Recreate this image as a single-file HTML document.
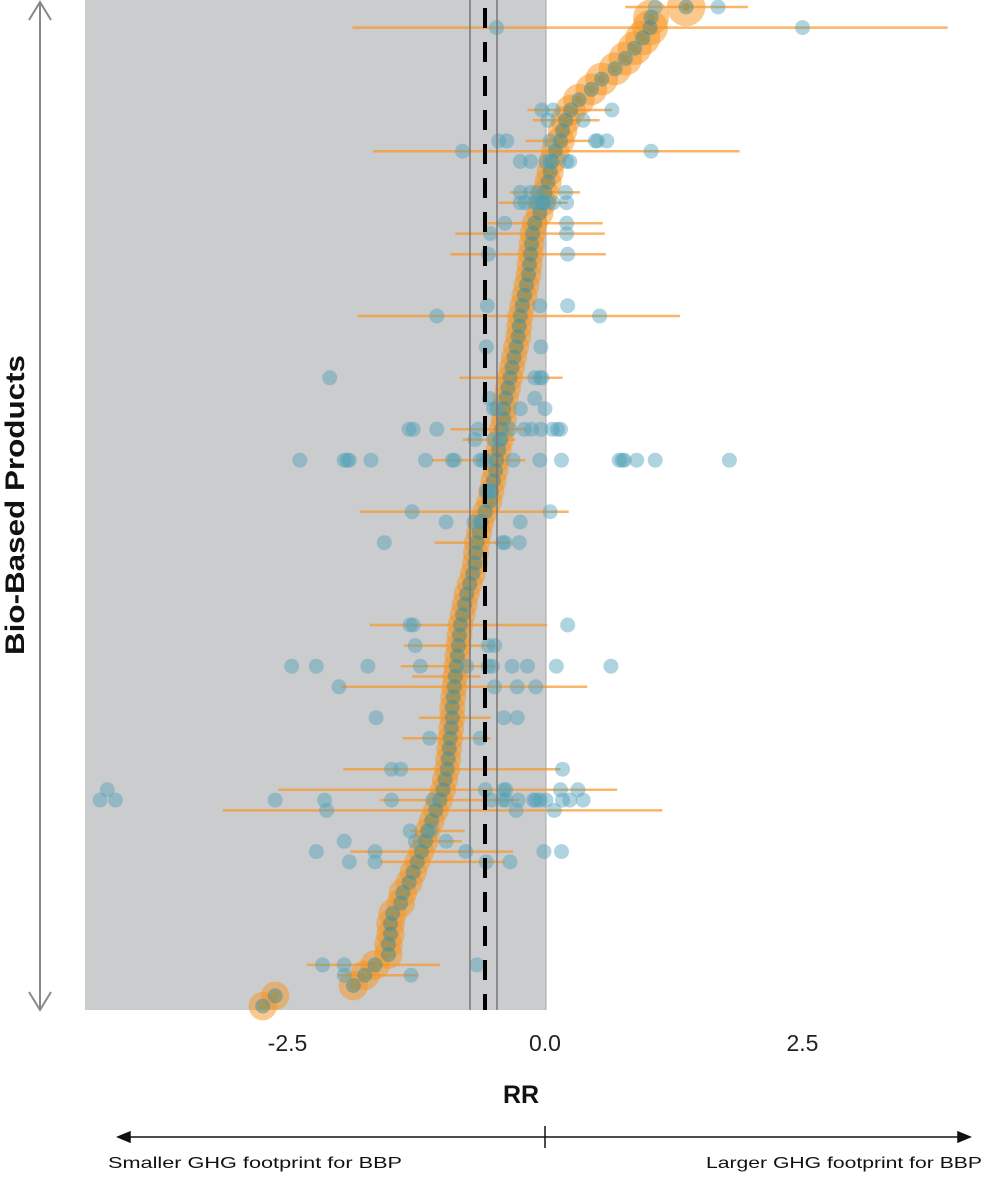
<!DOCTYPE html>
<html><head><meta charset="utf-8"><style>
body{margin:0;background:#fff;width:1000px;height:1183px;overflow:hidden;font-family:"Liberation Sans",sans-serif}
</style></head><body>
<svg id="chart" width="1000" height="1183" viewBox="0 0 1000 1183" xmlns="http://www.w3.org/2000/svg">
<rect x="85" y="0" width="461" height="1010" fill="#cbcccd"/>
<line x1="546" y1="0" x2="546" y2="1010" stroke="#a8a9aa" stroke-width="1"/>
<g id="marks"></g>
<line x1="470" y1="0" x2="470" y2="1010" stroke="#777" stroke-width="1.5"/>
<line x1="497" y1="0" x2="497" y2="1010" stroke="#777" stroke-width="1.5"/>
<line x1="485" y1="8" x2="485" y2="1010" stroke="#000" stroke-width="4" stroke-dasharray="20,14"/>
<g stroke="#888" stroke-width="2" fill="none">
<line x1="40" y1="2" x2="40" y2="1010"/>
<polyline points="29,20 40,2 51,20"/>
<polyline points="29,992 40,1010 51,992"/>
</g>
<text transform="translate(24,505) rotate(-90)" text-anchor="middle" font-size="27" font-weight="bold" fill="#111" textLength="300" lengthAdjust="spacingAndGlyphs">Bio-Based Products</text>
<g id="ticks"></g>
<text x="521" y="1103" text-anchor="middle" font-size="25" font-weight="bold" fill="#111">RR</text>
<g stroke="#111" stroke-width="1.5" fill="#111">
<line x1="122" y1="1137" x2="964" y2="1137"/>
<polygon points="118,1137 130,1132 130,1142"/>
<polygon points="970,1137 958,1132 958,1142"/>
<line x1="545" y1="1126" x2="545" y2="1148"/>
</g>
<text x="108" y="1168" font-size="16" fill="#111" textLength="294" lengthAdjust="spacingAndGlyphs">Smaller GHG footprint for BBP</text>
<text x="706" y="1168" font-size="16" fill="#111" textLength="276" lengthAdjust="spacingAndGlyphs">Larger GHG footprint for BBP</text>
</svg>
<script>
const rrMeans=[1.37,1.03,1.02,0.95,0.87,0.78,0.68,0.55,0.45,0.33,0.25,0.2,0.17,0.15,0.1,0.07,0.05,0.03,0.0,-0.02,-0.05,-0.1,-0.12,-0.13,-0.14,-0.15,-0.16,-0.18,-0.2,-0.22,-0.24,-0.25,-0.26,-0.28,-0.3,-0.32,-0.34,-0.36,-0.38,-0.4,-0.4,-0.42,-0.43,-0.45,-0.47,-0.48,-0.5,-0.52,-0.54,-0.58,-0.62,-0.64,-0.66,-0.67,-0.68,-0.7,-0.73,-0.76,-0.78,-0.8,-0.82,-0.83,-0.84,-0.85,-0.86,-0.87,-0.88,-0.89,-0.9,-0.9,-0.91,-0.92,-0.93,-0.94,-0.95,-0.97,-0.99,-1.02,-1.06,-1.1,-1.14,-1.16,-1.2,-1.24,-1.28,-1.32,-1.38,-1.4,-1.48,-1.5,-1.5,-1.52,-1.52,-1.65,-1.75,-1.86,-2.62,-2.74];
const rrWeights=[2.2,1.9,1.9,1.8,1.7,1.7,1.6,1.6,1.5,1.5,1.4,1.3,1.3,1.2,1.2,1.1,1.1,1.1,1.1,1.1,1.1,1,1,1,1,1,1,1,1,1,1,1,1,1,1,1,1,1,1,1,1,1,1,1,1,1,1,1,1,1,1,1,1,1,1,1,1,1,1,1,1,1,1,1,1,1,1,1,1,1,1,1,1,1,1,1,1,1,1,1,1,1,1,1,1.1,1.1,1.2,1.2,1.2,1.2,1.2,1.2,1.2,1.3,1.3,1.3,1.2,1.2];
const ciRows=[0,2,10,11,13,14,18,19,21,22,24,30,36,41,42,44,49,52,60,62,64,65,66,69,71,74,76,77,78,80,81,82,83,93,94];
const ciLow=[0.78,-1.87,-0.17,-0.12,-0.19,-1.67,-0.34,-0.45,-0.56,-0.87,-0.92,-1.82,-0.83,-0.92,-0.8,-1.1,-1.8,-1.07,-1.7,-1.37,-1.4,-1.29,-1.98,-1.22,-1.38,-1.96,-2.59,-1.6,-3.13,-1.31,-1.28,-1.89,-1.6,-2.31,-2.01];
const ciHigh=[1.97,3.91,0.65,0.53,0.44,1.89,0.34,0.22,0.56,0.58,0.59,1.31,0.17,-0.18,-0.29,-0.19,0.23,-0.34,0.02,-0.49,-0.49,-0.63,0.41,-0.53,-0.53,0.15,0.7,-0.25,1.14,-0.78,-0.81,-0.31,-0.39,-1.02,-1.23];
const obsRows=[0,2,10,11,13,14,15,18,19,21,22,24,29,30,33,36,38,39,41,42,44,47,49,50,52,60,62,64,66,69,71,74,76,77,78,80,81,82,83,93,94];
const obsValues=[[1.07,1.68],[-0.47,2.5],[-0.03,0.08,0.65],[0.03,0.37],[-0.45,-0.37,0.05,0.49,0.51,0.6],[-0.8,1.03],[-0.24,-0.14,0.01,0.05,0.21,0.24],[-0.24,-0.14,-0.07,0.2],[-0.24,-0.19,-0.1,-0.07,-0.03,0.03,0.08,0.21],[-0.39,0.21],[-0.53,0.21],[-0.55,0.22],[-0.56,-0.05,0.22],[-1.05,0.53],[-0.57,-0.04],[-2.09,-0.1,-0.05,-0.03],[-0.54,-0.1],[-0.5,-0.47,-0.24,0.0],[-1.32,-1.28,-1.05,-0.65,-0.34,-0.2,-0.13,-0.04,0.07,0.12,0.15],[-0.68,-0.5,-0.44],[-2.38,-1.95,-1.92,-1.9,-1.69,-1.16,-0.9,-0.88,-0.63,-0.6,-0.56,-0.31,-0.05,0.16,0.72,0.75,0.77,0.89,1.07,1.79],[-0.57,-0.55,-0.53],[-1.29,0.05],[-0.96,-0.69,-0.63,-0.24],[-1.56,-0.41,-0.39,-0.25],[-1.31,-1.28,0.22],[-1.26,-0.55,-0.49],[-2.46,-2.22,-1.72,-1.21,-0.76,-0.55,-0.51,-0.32,-0.17,0.11,0.64],[-2.0,-0.49,-0.27,-0.09],[-1.64,-0.4,-0.27],[-1.12,-0.63],[-1.49,-1.4,0.17],[-4.25,-0.58,-0.4,-0.38,0.15,0.32],[-4.32,-4.17,-2.62,-2.14,-1.49,-1.09,-0.52,-0.41,-0.38,-0.26,-0.11,-0.09,-0.05,0.01,0.17,0.24,0.37],[-2.12,-0.28,0.09],[-1.31,-1.11],[-1.95,-1.26,-0.96],[-2.22,-1.65,-0.77,-0.01,0.16],[-1.9,-1.65,-0.57,-0.34],[-2.16,-1.95,-0.66],[-1.95,-1.3]];
const tickValues=[-2.5,0,2.5];
const tickLabels=["-2.5","0.0","2.5"];

const NS="http://www.w3.org/2000/svg";
const xScale=v=>545+v*103;
const yScale=i=>7+i*10.3;
const marks=document.getElementById('marks');
function mk(tag,attrs,parent){const e=document.createElementNS(NS,tag);for(const k in attrs)e.setAttribute(k,attrs[k]);parent.appendChild(e);return e;}
const gCI=mk('g',{},marks);


ciRows.forEach((r,j)=>{
  const l=mk('line',{x1:xScale(ciLow[j]),x2:xScale(ciHigh[j]),y1:yScale(r),y2:yScale(r),stroke:'rgba(248,150,40,0.7)','stroke-width':2.5},gCI);
  
  
});
const gMean=mk('g',{},marks);


rrMeans.forEach((v,i)=>{
  const c=mk('circle',{cx:xScale(v),cy:yScale(i),r:13*Math.sqrt(rrWeights[i]),fill:'rgba(248,148,30,0.5)'},gMean);
  
  
  const d=mk('circle',{cx:xScale(v),cy:yScale(i),r:4,fill:'#ffa51f'},gMean);
  
  
});
const gObs=mk('g',{},marks);


rrMeans.forEach((v,i)=>{
  const c=mk('circle',{cx:xScale(v),cy:yScale(i),r:7.5,fill:'rgba(70,140,150,0.5)'},gObs);
  
  
});
obsRows.forEach((r,j)=>{
  obsValues[j].forEach(v=>{
    const c=mk('circle',{cx:xScale(v),cy:yScale(r),r:7.5,fill:'rgba(80,160,185,0.45)'},gObs);
    
    
  });
});
const gT=document.getElementById('ticks');
tickValues.forEach((v,i)=>{
  const t=mk('text',{x:xScale(v),y:1051,'text-anchor':'middle','font-size':23,fill:'#222'},gT);
  t.textContent=tickLabels[i];
  
  
});
</script>
</body></html>
